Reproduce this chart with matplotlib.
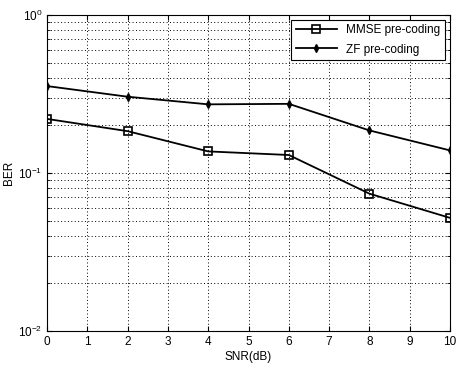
import matplotlib
matplotlib.use("Agg")
from matplotlib import pyplot as plt

snr = [0, 2, 4, 6, 8, 10]
ber_mmse = [0.220, 0.184, 0.137, 0.130, 0.074, 0.052]
ber_zf = [0.355, 0.304, 0.272, 0.274, 0.186, 0.139]

plt.rcParams['font.family'] = ['Liberation Sans', 'DejaVu Sans']

fig = plt.figure(figsize=(4.58, 3.66), dpi=100)
ax = fig.add_axes([0.1026, 0.0956, 0.880, 0.8634])

ax.semilogy(snr, ber_mmse, color='black', lw=1.3, marker='s', ms=6,
            mfc='none', mec='black', mew=1.2, label='MMSE pre-coding')
ax.semilogy(snr, ber_zf, color='black', lw=1.3, marker='d', ms=4,
            mfc='black', mec='black', label='ZF pre-coding')

ax.set_xlim(0, 10)
ax.set_ylim(1e-2, 1)
ax.set_xticks(range(0, 11))
ax.grid(True, which='both', ls=(0, (1, 2.5)), color='black', lw=0.7)
ax.tick_params(which='both', direction='in', top=True, right=True, labelsize=8.5)
ax.set_xlabel('SNR(dB)', fontsize=8.5, labelpad=2)
ax.set_ylabel('BER', fontsize=8.5, labelpad=2)

leg = ax.legend(loc='upper right', fontsize=8.5, fancybox=False, framealpha=1,
                edgecolor='black', handlelength=3.5, borderaxespad=0.4,
                labelspacing=0.6)
leg.get_frame().set_linewidth(0.8)

fig.savefig('out.png', dpi=100)
